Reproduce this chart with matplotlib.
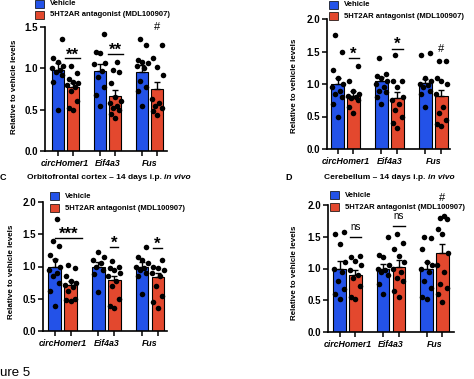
import matplotlib
matplotlib.use('Agg')
import matplotlib.pyplot as plt
from matplotlib.patches import Rectangle
import numpy as np

plt.rcParams['font.family'] = ['Liberation Sans', 'DejaVu Sans']

W, H = 474, 379
BLUE = '#2352e8'
RED = '#e3482e'

genes = ['circHomer1', 'Eif4a3', 'Fus']
group_labels = ['Vehicle', '5HT2AR antagonist (MDL100907)']
title_c = 'Orbitofrontal cortex \u2013 14 days i.p. '
title_d = 'Cerebellum \u2013 14 days i.p. '
title_italic = 'in vivo'
yticks_a = [0.0, 0.5, 1.0, 1.5]
yticks_b = [0.0, 0.5, 1.0, 1.5, 2.0]

# ---- Panel A ----
a_veh_mean = [0.98, 0.97, 0.96]
a_veh_sem = [0.08, 0.08, 0.08]
a_mdl_mean = [0.77, 0.67, 0.75]
a_mdl_sem = [0.05, 0.07, 0.09]
a_veh_pts = [[1.36, 1.12, 1.08, 1.03, 1.00, 0.98, 0.95, 0.92, 0.83, 0.50],
             [1.42, 1.20, 1.18, 1.07, 1.05, 0.97, 0.90, 0.78, 0.68, 0.55],
             [1.36, 1.28, 1.10, 1.08, 1.06, 1.03, 1.00, 0.85, 0.78, 0.72, 0.55]]
a_mdl_pts = [[1.03, 0.94, 0.87, 0.83, 0.82, 0.80, 0.77, 0.72, 0.60, 0.52, 0.50],
             [1.08, 0.98, 0.95, 0.82, 0.65, 0.60, 0.58, 0.55, 0.52, 0.50, 0.45, 0.40],
             [1.28, 1.12, 1.02, 0.92, 0.63, 0.58, 0.55, 0.52, 0.48, 0.44]]
a_sig = ['**', '**', '#']

# ---- Panel B ----
b_veh_mean = [1.00, 1.05, 1.01]
b_veh_sem = [0.10, 0.06, 0.06]
b_mdl_mean = [0.82, 0.78, 0.81]
b_mdl_sem = [0.07, 0.10, 0.10]
b_veh_pts = [[1.75, 1.50, 1.22, 1.10, 1.00, 0.95, 0.90, 0.85, 0.80, 0.70, 0.50],
             [1.40, 1.15, 1.12, 1.10, 1.05, 1.00, 0.95, 0.90, 0.88, 0.80, 0.70],
             [1.48, 1.45, 1.10, 1.05, 1.00, 0.98, 0.95, 0.90, 0.85, 0.65]]
b_mdl_pts = [[1.28, 1.05, 0.90, 0.85, 0.82, 0.80, 0.78, 0.75, 0.65, 0.55],
             [1.45, 1.05, 1.05, 0.95, 0.80, 0.75, 0.70, 0.60, 0.50, 0.40, 0.32],
             [1.35, 1.35, 1.10, 1.05, 1.00, 0.85, 0.65, 0.55, 0.45, 0.38, 0.35]]
b_sig = ['*', '*', '#']

# ---- Panel C ----
c_veh_mean = [1.00, 1.00, 1.00]
c_veh_sem = [0.12, 0.07, 0.07]
c_mdl_mean = [0.72, 0.79, 0.83]
c_mdl_sem = [0.06, 0.07, 0.07]
c_veh_pts = [[1.73, 1.40, 1.32, 1.18, 1.10, 1.00, 0.95, 0.90, 0.85, 0.75, 0.62, 0.38],
             [1.22, 1.15, 1.10, 1.05, 1.00, 0.95, 0.88, 0.60],
             [1.30, 1.15, 1.10, 1.05, 1.00, 0.98, 0.95, 0.90, 0.85, 0.57]]
c_mdl_pts = [[1.02, 0.98, 0.85, 0.78, 0.75, 0.72, 0.68, 0.62, 0.50, 0.48, 0.46],
             [1.08, 1.00, 0.98, 0.95, 0.90, 0.85, 0.78, 0.70, 0.50, 0.38, 0.36],
             [1.10, 1.00, 0.98, 0.95, 0.90, 0.85, 0.70, 0.55, 0.45, 0.35]]
c_sig = ['***', '*', '*']

# ---- Panel D ----
d_veh_mean = [1.00, 1.00, 1.00]
d_veh_sem = [0.12, 0.07, 0.10]
d_mdl_mean = [0.90, 1.03, 1.25]
d_mdl_sem = [0.07, 0.10, 0.14]
d_veh_pts = [[1.58, 1.55, 1.38, 1.10, 1.00, 0.95, 0.80, 0.68, 0.60, 0.52],
             [1.50, 1.22, 1.18, 1.05, 1.00, 0.98, 0.95, 0.90, 0.75, 0.60],
             [1.50, 1.48, 1.30, 1.10, 1.05, 1.00, 0.95, 0.80, 0.70, 0.55, 0.52]]
d_mdl_pts = [[1.20, 1.18, 1.12, 1.05, 0.98, 0.90, 0.85, 0.72, 0.55, 0.52],
             [1.55, 1.40, 1.30, 1.20, 1.10, 1.00, 0.95, 0.85, 0.80, 0.65, 0.55],
             [1.82, 1.80, 1.78, 1.62, 1.55, 1.25, 1.05, 0.95, 0.75, 0.70, 0.60, 0.48]]
d_sig = ['ns', 'ns', '#']

fig = plt.figure(figsize=(W / 100, H / 100), dpi=100)

def fx(x):
    return x / W

def fy(y):
    return 1 - y / H

OFF = 0.18
BW = 0.29
JIT = [0.0, -0.1, 0.1, -0.05, 0.05, -0.13, 0.13]

def jitter(vals):
    order = np.argsort(vals)
    offs = np.zeros(len(vals))
    for k, idx in enumerate(order):
        offs[idx] = JIT[k % len(JIT)]
    return offs

def panel(box, xlim, ylim, yticks, veh_m, veh_s, mdl_m, mdl_s, veh_p, mdl_p,
          sigs, ann, legend_xy, ylab_xy):
    l, r, y0, yt = box
    ax = fig.add_axes([fx(l), fy(y0), fx(r - l), (y0 - yt) / H])
    xc = np.arange(len(genes))
    for xs, m, s, pts, col in [(xc - OFF, veh_m, veh_s, veh_p, BLUE),
                                (xc + OFF, mdl_m, mdl_s, mdl_p, RED)]:
        ax.bar(xs, m, width=BW, color=col, edgecolor='black', linewidth=0.8, zorder=2)
        for x, p in zip(xs, pts):
            p = np.asarray(p)
            ax.scatter(x + jitter(p), p, s=16, color='black', zorder=3,
                       linewidths=0, clip_on=False)
        ax.errorbar(xs, m, yerr=[np.zeros(len(m)), s], fmt='none', ecolor='black',
                    elinewidth=1.0, capsize=2.5, capthick=1.0, zorder=4)
    ax.set_xlim(*xlim)
    ax.set_ylim(*ylim)
    ax.set_yticks(yticks)
    ax.set_yticklabels([f'{t:.1f}' for t in yticks], fontsize=7, fontweight='bold')
    ax.set_xticks(np.concatenate([xc - OFF, xc + OFF]))
    ax.set_xticklabels([])
    ax.set_xticks(xc, minor=True)
    ax.set_xticklabels(genes, minor=True, fontsize=6.3, fontweight='bold', style='italic')
    ax.tick_params(axis='x', which='minor', length=0, pad=5.5)
    ax.tick_params(axis='both', which='major', length=3.5, width=1.1, pad=1.5)
    for sp in ['top', 'right']:
        ax.spines[sp].set_visible(False)
    for sp in ['left', 'bottom']:
        ax.spines[sp].set_linewidth(1.2)
    # significance
    for g, (txt, (ly, ty, lx0, lx1)) in enumerate(zip(sigs, ann)):
        if ly is not None:
            ax.plot([g + lx0, g + lx1], [ly, ly], color='black', lw=1.0, clip_on=False, zorder=5)
        tx = g + OFF if lx0 is None else g + (lx0 + lx1) / 2
        if txt.startswith('*'):
            fs, k, fw = 12, 0.58, 'bold'
        elif txt == '#':
            fs, k, fw = 8, 0.35, 'normal'
        else:
            fs, k, fw = 7, 0.27, 'normal'
        ax.annotate(txt, xy=(tx, ty), xytext=(0, -k * fs), textcoords='offset points',
                    ha='center', va='baseline', fontsize=fs, fontweight=fw,
                    annotation_clip=False)
    # legend
    lx, ly1, ly2 = legend_xy
    for yy, col, lab in [(ly1, BLUE, group_labels[0]), (ly2, RED, group_labels[1])]:
        fig.add_artist(Rectangle((fx(lx), fy(yy + 4)), fx(9), 8 / H,
                                 transform=fig.transFigure, facecolor=col,
                                 edgecolor='black', linewidth=0.5))
        fig.text(fx(lx + 15), fy(yy), lab, fontsize=5.5, fontweight='bold',
                 ha='left', va='center')
    fig.text(fx(ylab_xy[0]), fy(ylab_xy[1]), 'Relative to vehicle levels', rotation=90,
             fontsize=5.8, fontweight='bold', ha='center', va='center')
    return ax

# annotation specs per gene: (line y, text center y, line x0, line x1) relative to group center
ann_a = [(1.12, 1.22, 0.0, 0.36), (1.17, 1.28, 0.01, 0.36), (None, 1.51, None, None)]
ann_b = [(1.395, 1.53, 0.07, 0.30), (1.54, 1.69, 0.07, 0.30), (None, 1.55, None, None)]
ann_c = [(1.44, 1.58, -0.17, 0.45), (1.31, 1.44, 0.09, 0.27), (1.28, 1.42, 0.07, 0.27)]
ann_d = [(1.50, 1.65, 0.06, 0.31), (1.67, 1.82, 0.05, 0.32), (None, 2.13, None, None)]

panel((45, 167, 151, 27), (-0.48, 2.41), (0, 1.5), yticks_a,
      a_veh_mean, a_veh_sem, a_mdl_mean, a_mdl_sem, a_veh_pts, a_mdl_pts,
      a_sig, ann_a, (35, 3.5, 14.5), (15, 87))
panel((327, 450, 149, 19), (-0.42, 2.38), (0, 2.0), yticks_b,
      b_veh_mean, b_veh_sem, b_mdl_mean, b_mdl_sem, b_veh_pts, b_mdl_pts,
      b_sig, ann_b, (329, 4.5, 16), (295, 86))
panel((43, 167, 331, 202), (-0.45, 2.39), (0, 2.0), yticks_b,
      c_veh_mean, c_veh_sem, c_mdl_mean, c_mdl_sem, c_veh_pts, c_mdl_pts,
      c_sig, ann_c, (50, 196, 208), (12, 272))
panel((328, 454, 332, 205), (-0.45, 2.45), (0, 2.0), yticks_b,
      d_veh_mean, d_veh_sem, d_mdl_mean, d_mdl_sem, d_veh_pts, d_mdl_pts,
      d_sig, ann_d, (330, 195, 207), (295, 273))

# panel titles
def title(xl, xt, y, letter, text):
    fig.text(fx(xl), fy(y), letter, fontsize=6.5, fontweight='bold', ha='left', va='center')
    t = fig.text(fx(xt), fy(y), text, fontsize=6, fontweight='bold', ha='left', va='center')
    fig.add_artist(plt.Annotation(title_italic, xy=(1, 0), xycoords=t, ha='left',
                                  va='bottom', fontsize=6, fontweight='bold',
                                  style='italic'))

title(0, 27, 178, 'C', title_c)
title(285, 324, 178, 'D', title_d)

fig.text(0, fy(373), 'ure 5', fontsize=9.5, ha='left', va='center')

fig.savefig('out.png', dpi=100)
